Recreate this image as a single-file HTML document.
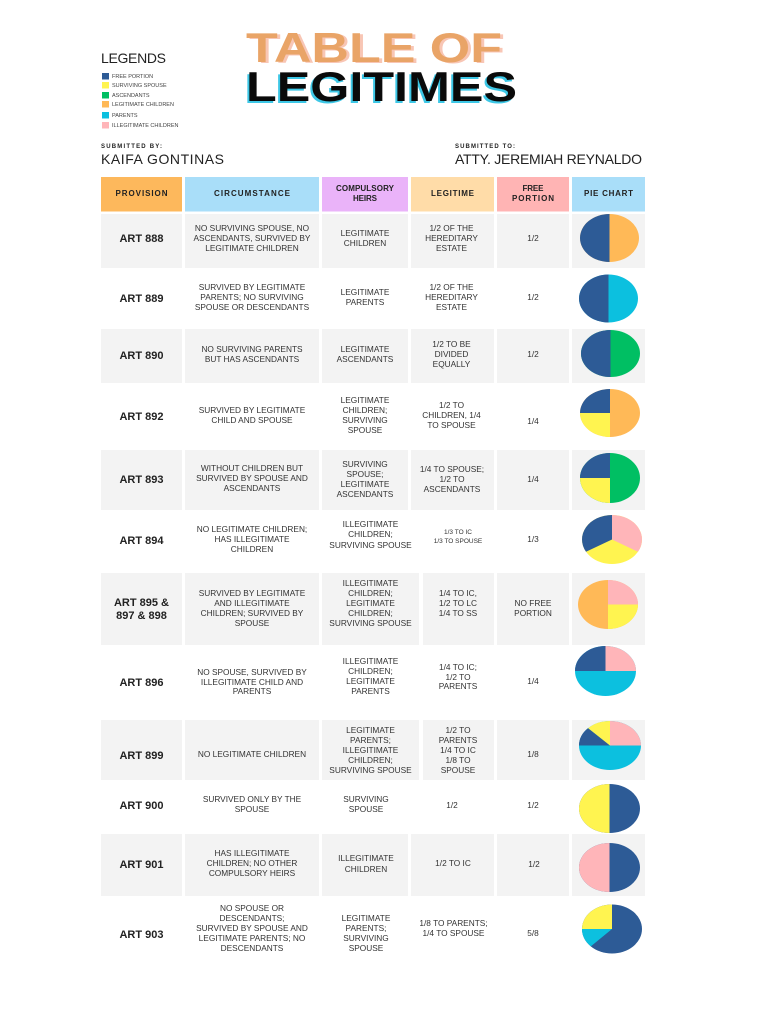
<!DOCTYPE html>
<html><head><meta charset="utf-8"><style>html,body{margin:0;padding:0;background:#fff}svg{display:block}</style></head>
<body>
<svg width="768" height="1024" viewBox="0 0 768 1024" xmlns="http://www.w3.org/2000/svg" font-family="'Liberation Sans', sans-serif">
<rect width="768" height="1024" fill="#fff"/>

<!-- Legend -->
<text x="101" y="63" font-size="14" fill="#222" textLength="65">LEGENDS</text>
<g font-size="5.5" fill="#444">
<rect x="102" y="73" width="7" height="6.5" fill="#2d5b96"/><text x="112" y="78">FREE PORTION</text>
<rect x="102" y="82" width="7" height="6.5" fill="#fff450"/><text x="112" y="87">SURVIVING SPOUSE</text>
<rect x="102" y="92" width="7" height="6.5" fill="#00bf63"/><text x="112" y="97">ASCENDANTS</text>
<rect x="102" y="101" width="7" height="6.5" fill="#ffb957"/><text x="112" y="106">LEGITIMATE CHILDREN</text>
<rect x="102" y="112" width="7" height="6.5" fill="#0cc0df"/><text x="112" y="117">PARENTS</text>
<rect x="102" y="122" width="7" height="6.5" fill="#ffb5b9"/><text x="112" y="127">ILLEGITIMATE CHILDREN</text>
</g>

<!-- Title -->
<g font-weight="bold" font-size="42" lengthAdjust="spacingAndGlyphs">
<text x="249" y="63" fill="#f8c6b5" textLength="256" lengthAdjust="spacingAndGlyphs">TABLE OF</text>
<text x="246" y="62" fill="#e9a467" textLength="256" lengthAdjust="spacingAndGlyphs">TABLE OF</text>
<text x="244" y="103" fill="#3dc7e6" textLength="271" lengthAdjust="spacingAndGlyphs">LEGITIMES</text>
<text x="246" y="101" fill="#0a0a0a" textLength="271" lengthAdjust="spacingAndGlyphs">LEGITIMES</text>
</g>

<!-- Submitted -->
<text x="101" y="148" font-size="6" font-weight="bold" fill="#222" textLength="61">SUBMITTED BY:</text>
<text x="101" y="164" font-size="14" fill="#222" textLength="123">KAIFA GONTINAS</text>
<text x="455" y="148" font-size="6" font-weight="bold" fill="#222" textLength="60">SUBMITTED TO:</text>
<text x="455" y="164" font-size="14" fill="#222" textLength="187">ATTY. JEREMIAH REYNALDO</text>

<!-- Header -->
<rect x="101" y="177" width="81" height="34.5" fill="#fdb85c"/>
<rect x="185" y="177" width="134" height="34.5" fill="#a9def9"/>
<rect x="322" y="177" width="86" height="34.5" fill="#eab3f9"/>
<rect x="411" y="177" width="83" height="34.5" fill="#ffdca8"/>
<rect x="497" y="177" width="72" height="34.5" fill="#ffb4b4"/>
<rect x="572" y="177" width="73" height="34.5" fill="#a9def9"/>
<g font-size="8" font-weight="bold" fill="#222" text-anchor="middle">
<text x="141.5" y="196" textLength="52">PROVISION</text>
<text x="252" y="196" textLength="76">CIRCUMSTANCE</text>
<text x="365" y="191" textLength="58">COMPULSORY</text>
<text x="365" y="201" textLength="24">HEIRS</text>
<text x="452.5" y="196" textLength="43">LEGITIME</text>
<text x="533" y="191" textLength="21">FREE</text>
<text x="533" y="201" textLength="42">PORTION</text>
<text x="608.5" y="196" textLength="49">PIE CHART</text>
</g>

<!-- Gray rows -->
<g fill="#f3f3f3">
<!-- 888 -->
<rect x="101" y="214" width="81" height="54"/><rect x="185" y="214" width="134" height="54"/><rect x="322" y="214" width="86" height="54"/><rect x="411" y="214" width="83" height="54"/><rect x="497" y="214" width="72" height="54"/><rect x="572" y="214" width="73" height="54"/>
<!-- 890 -->
<rect x="101" y="329" width="81" height="54"/><rect x="185" y="329" width="134" height="54"/><rect x="322" y="329" width="86" height="54"/><rect x="411" y="329" width="83" height="54"/><rect x="497" y="329" width="72" height="54"/><rect x="572" y="329" width="73" height="54"/>
<!-- 893 -->
<rect x="101" y="450" width="81" height="60"/><rect x="185" y="450" width="134" height="60"/><rect x="322" y="450" width="86" height="60"/><rect x="411" y="450" width="83" height="60"/><rect x="497" y="450" width="72" height="60"/><rect x="572" y="450" width="73" height="60"/>
<!-- 895 -->
<rect x="101" y="573" width="81" height="72"/><rect x="185" y="573" width="134" height="72"/><rect x="322" y="573" width="97" height="72"/><rect x="423" y="573" width="71" height="72"/><rect x="497" y="573" width="72" height="72"/><rect x="572" y="573" width="73" height="72"/>
<!-- 899 -->
<rect x="101" y="720" width="81" height="60"/><rect x="185" y="720" width="134" height="60"/><rect x="322" y="720" width="97" height="60"/><rect x="423" y="720" width="71" height="60"/><rect x="497" y="720" width="72" height="60"/><rect x="572" y="720" width="73" height="60"/>
<!-- 901 -->
<rect x="101" y="834" width="81" height="62"/><rect x="185" y="834" width="134" height="62"/><rect x="322" y="834" width="86" height="62"/><rect x="411" y="834" width="83" height="62"/><rect x="497" y="834" width="72" height="62"/><rect x="572" y="834" width="73" height="62"/>
</g>

<!-- Provision labels -->
<g font-size="11" font-weight="bold" fill="#222" text-anchor="middle">
<text x="141.5" y="242">ART 888</text>
<text x="141.5" y="302">ART 889</text>
<text x="141.5" y="359">ART 890</text>
<text x="141.5" y="420">ART 892</text>
<text x="141.5" y="483">ART 893</text>
<text x="141.5" y="544">ART 894</text>
<text x="141.5" y="606">ART 895 &amp;</text>
<text x="141.5" y="619">897 &amp; 898</text>
<text x="141.5" y="686">ART 896</text>
<text x="141.5" y="759">ART 899</text>
<text x="141.5" y="809">ART 900</text>
<text x="141.5" y="868">ART 901</text>
<text x="141.5" y="938">ART 903</text>
</g>

<!-- Body text -->
<g font-size="8.3" fill="#333" text-anchor="middle">
<!-- 888 -->
<text x="252" y="231">NO SURVIVING SPOUSE, NO</text><text x="252" y="241">ASCENDANTS, SURVIVED BY</text><text x="252" y="251">LEGITIMATE CHILDREN</text>
<text x="365" y="236">LEGITIMATE</text><text x="365" y="246">CHILDREN</text>
<text x="451.5" y="231">1/2 OF THE</text><text x="451.5" y="241">HEREDITARY</text><text x="451.5" y="251">ESTATE</text>
<text x="533" y="241">1/2</text>
<!-- 889 -->
<text x="252" y="290">SURVIVED BY LEGITIMATE</text><text x="252" y="300">PARENTS; NO SURVIVING</text><text x="252" y="310">SPOUSE OR DESCENDANTS</text>
<text x="365" y="295">LEGITIMATE</text><text x="365" y="305">PARENTS</text>
<text x="451.5" y="290">1/2 OF THE</text><text x="451.5" y="300">HEREDITARY</text><text x="451.5" y="310">ESTATE</text>
<text x="533" y="300">1/2</text>
<!-- 890 -->
<text x="252" y="352">NO SURVIVING PARENTS</text><text x="252" y="362">BUT HAS ASCENDANTS</text>
<text x="365" y="352">LEGITIMATE</text><text x="365" y="362">ASCENDANTS</text>
<text x="451.5" y="347">1/2 TO BE</text><text x="451.5" y="357">DIVIDED</text><text x="451.5" y="367">EQUALLY</text>
<text x="533" y="357">1/2</text>
<!-- 892 -->
<text x="252" y="413">SURVIVED BY LEGITIMATE</text><text x="252" y="423">CHILD AND SPOUSE</text>
<text x="365" y="403">LEGITIMATE</text><text x="365" y="413">CHILDREN;</text><text x="365" y="423">SURVIVING</text><text x="365" y="433">SPOUSE</text>
<text x="451.5" y="408">1/2  TO</text><text x="451.5" y="418">CHILDREN, 1/4</text><text x="451.5" y="428">TO SPOUSE</text>
<text x="533" y="424">1/4</text>
<!-- 893 -->
<text x="252" y="471">WITHOUT CHILDREN BUT</text><text x="252" y="481">SURVIVED BY SPOUSE AND</text><text x="252" y="491">ASCENDANTS</text>
<text x="365" y="467">SURVIVING</text><text x="365" y="477">SPOUSE;</text><text x="365" y="487">LEGITIMATE</text><text x="365" y="497">ASCENDANTS</text>
<text x="452" y="472">1/4 TO SPOUSE;</text><text x="452" y="482">1/2  TO</text><text x="452" y="492">ASCENDANTS</text>
<text x="533" y="482">1/4</text>
<!-- 894 -->
<text x="252" y="532">NO LEGITIMATE CHILDREN;</text><text x="252" y="542">HAS ILLEGITIMATE</text><text x="252" y="552">CHILDREN</text>
<text x="370.5" y="527">ILLEGITIMATE</text><text x="370.5" y="537">CHILDREN;</text><text x="370.5" y="548">SURVIVING SPOUSE</text>
<text x="458" y="534" font-size="6.5">1/3  TO IC</text><text x="458" y="543" font-size="6.5">1/3 TO SPOUSE</text>
<text x="533" y="542">1/3</text>
<!-- 895 -->
<text x="252" y="596">SURVIVED BY LEGITIMATE</text><text x="252" y="606">AND ILLEGITIMATE</text><text x="252" y="616">CHILDREN; SURVIVED BY</text><text x="252" y="626">SPOUSE</text>
<text x="370.5" y="586">ILLEGITIMATE</text><text x="370.5" y="596">CHILDREN;</text><text x="370.5" y="606">LEGITIMATE</text><text x="370.5" y="616">CHILDREN;</text><text x="370.5" y="626">SURVIVING SPOUSE</text>
<text x="458" y="596">1/4  TO IC,</text><text x="458" y="606">1/2 TO LC</text><text x="458" y="616">1/4 TO SS</text>
<text x="533" y="606">NO FREE</text><text x="533" y="616">PORTION</text>
<!-- 896 -->
<text x="252" y="675">NO SPOUSE, SURVIVED BY</text><text x="252" y="685">ILLEGITIMATE CHILD AND</text><text x="252" y="694">PARENTS</text>
<text x="370.5" y="664">ILLEGITIMATE</text><text x="370.5" y="674">CHILDREN;</text><text x="370.5" y="684">LEGITIMATE</text><text x="370.5" y="694">PARENTS</text>
<text x="458" y="670">1/4 TO IC;</text><text x="458" y="680">1/2 TO</text><text x="458" y="689">PARENTS</text>
<text x="533" y="684">1/4</text>
<!-- 899 -->
<text x="252" y="757">NO LEGITIMATE CHILDREN</text>
<text x="370.5" y="733">LEGITIMATE</text><text x="370.5" y="743">PARENTS;</text><text x="370.5" y="753">ILLEGITIMATE</text><text x="370.5" y="763">CHILDREN;</text><text x="370.5" y="773">SURVIVING SPOUSE</text>
<text x="458" y="733">1/2 TO</text><text x="458" y="743">PARENTS</text><text x="458" y="753">1/4 TO IC</text><text x="458" y="763">1/8 TO</text><text x="458" y="773">SPOUSE</text>
<text x="533" y="757">1/8</text>
<!-- 900 -->
<text x="252" y="802">SURVIVED ONLY BY THE</text><text x="252" y="812">SPOUSE</text>
<text x="366" y="802">SURVIVING</text><text x="366" y="812">SPOUSE</text>
<text x="452" y="808">1/2</text>
<text x="533" y="808">1/2</text>
<!-- 901 -->
<text x="252" y="856">HAS ILLEGITIMATE</text><text x="252" y="866">CHILDREN; NO OTHER</text><text x="252" y="876">COMPULSORY HEIRS</text>
<text x="366" y="861">ILLEGITIMATE</text><text x="366" y="872">CHILDREN</text>
<text x="453" y="866">1/2 TO IC</text>
<text x="534" y="867">1/2</text>
<!-- 903 -->
<text x="252" y="911">NO SPOUSE OR</text><text x="252" y="921">DESCENDANTS;</text><text x="252" y="931">SURVIVED BY SPOUSE AND</text><text x="252" y="941">LEGITIMATE PARENTS; NO</text><text x="252" y="951">DESCENDANTS</text>
<text x="366" y="921">LEGITIMATE</text><text x="366" y="931">PARENTS;</text><text x="366" y="941">SURVIVING</text><text x="366" y="951">SPOUSE</text>
<text x="453.5" y="926">1/8 TO PARENTS;</text><text x="453.5" y="936">1/4 TO SPOUSE</text>
<text x="533" y="936">5/8</text>
</g>

<!-- Pies -->
<!-- 888 -->
<ellipse cx="609.5" cy="238" rx="29.5" ry="24" fill="#ffb957"/>
<path d="M609.5 238 L609.5 262 A29.5 24 0 0 1 609.5 214 Z" fill="#2d5b96"/>
<!-- 889 -->
<ellipse cx="608.5" cy="298.5" rx="29.5" ry="24" fill="#0cc0df"/>
<path d="M608.5 298.5 L608.5 322.5 A29.5 24 0 0 1 608.5 274.5 Z" fill="#2d5b96"/>
<!-- 890 -->
<ellipse cx="610.5" cy="353.5" rx="29.5" ry="23.5" fill="#00bf63"/>
<path d="M610.5 353.5 L610.5 377 A29.5 23.5 0 0 1 610.5 330 Z" fill="#2d5b96"/>
<!-- 892 -->
<ellipse cx="610" cy="413" rx="30" ry="24" fill="#ffb957"/>
<path d="M610 413 L610 437 A30 24 0 0 1 580 413 Z" fill="#fff450"/>
<path d="M610 413 L580 413 A30 24 0 0 1 610 389 Z" fill="#2d5b96"/>
<!-- 893 -->
<ellipse cx="610" cy="478" rx="30" ry="25" fill="#00bf63"/>
<path d="M610 478 L610 503 A30 25 0 0 1 580 478 Z" fill="#fff450"/>
<path d="M610 478 L580 478 A30 25 0 0 1 610 453 Z" fill="#2d5b96"/>
<!-- 894 -->
<ellipse cx="612" cy="539.5" rx="30" ry="24.5" fill="#fff450"/>
<path d="M612 539.5 L612 515 A30 24.5 0 0 1 637.98 551.75 Z" fill="#ffb5b9"/>
<path d="M612 539.5 L586.02 551.75 A30 24.5 0 0 1 612 515 Z" fill="#2d5b96"/>
<!-- 895 -->
<ellipse cx="608" cy="604.5" rx="30" ry="24.5" fill="#ffb957"/>
<path d="M608 604.5 L608 580 A30 24.5 0 0 1 638 604.5 Z" fill="#ffb5b9"/>
<path d="M608 604.5 L638 604.5 A30 24.5 0 0 1 608 629 Z" fill="#fff450"/>
<!-- 896 -->
<ellipse cx="605.5" cy="671" rx="30.5" ry="25" fill="#0cc0df"/>
<path d="M605.5 671 L605.5 646 A30.5 25 0 0 1 636 671 Z" fill="#ffb5b9"/>
<path d="M605.5 671 L575 671 A30.5 25 0 0 1 605.5 646 Z" fill="#2d5b96"/>
<!-- 899 -->
<ellipse cx="610" cy="745.5" rx="31" ry="24.5" fill="#0cc0df"/>
<path d="M610 745.5 L610 721 A31 24.5 0 0 1 641 745.5 Z" fill="#ffb5b9"/>
<path d="M610 745.5 L579 745.5 A31 24.5 0 0 1 588.08 728.18 Z" fill="#2d5b96"/>
<path d="M610 745.5 L588.08 728.18 A31 24.5 0 0 1 610 721 Z" fill="#fff450"/>
<!-- 900 -->
<ellipse cx="609.5" cy="808.5" rx="30.5" ry="24.5" fill="#2d5b96"/>
<path d="M609.5 808.5 L609.5 833 A30.5 24.5 0 0 1 609.5 784 Z" fill="#fff450"/>
<!-- 901 -->
<ellipse cx="609.5" cy="867.5" rx="30.5" ry="24.5" fill="#2d5b96"/>
<path d="M609.5 867.5 L609.5 892 A30.5 24.5 0 0 1 609.5 843 Z" fill="#ffb5b9"/>
<!-- 903 -->
<ellipse cx="612" cy="929" rx="30" ry="24.5" fill="#2d5b96"/>
<path d="M612 929 L590.79 946.32 A30 24.5 0 0 1 582 929 Z" fill="#0cc0df"/>
<path d="M612 929 L582 929 A30 24.5 0 0 1 612 904.5 Z" fill="#fff450"/>
</svg>
</body></html>
